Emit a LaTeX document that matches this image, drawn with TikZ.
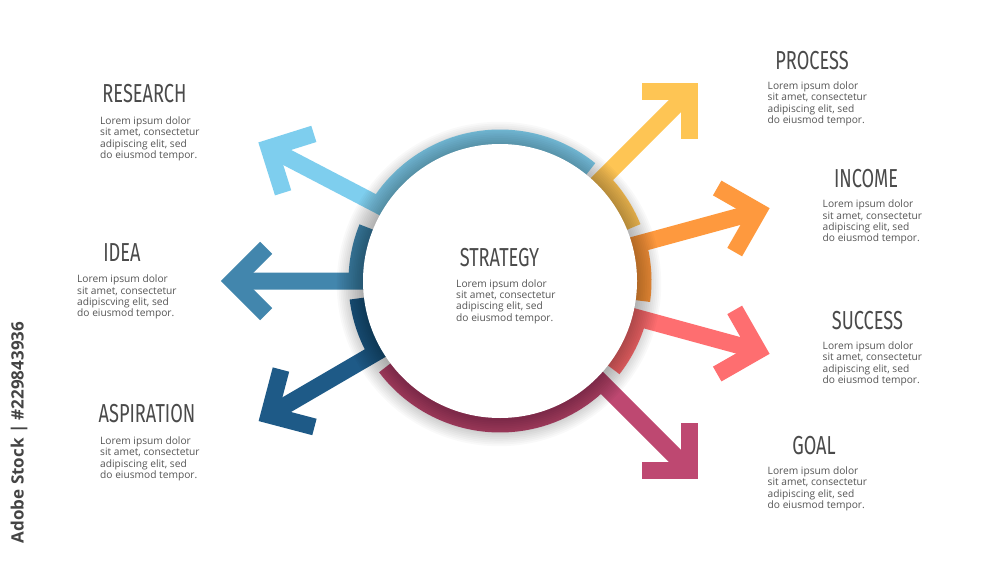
\documentclass[tikz,border=0pt]{standalone}
\usepackage{fontspec}
\newfontfamily\bodyfont{Open Sans}
\newfontfamily\titlefont[FakeStretch=0.70]{Fira Sans}
\newfontfamily\markfont{Open Sans}
\usetikzlibrary{calc}
\definecolor{cResearch}{HTML}{7ECEEE}
\definecolor{cIdea}{HTML}{4286AD}
\definecolor{cAspiration}{HTML}{1E5A87}
\definecolor{cGoal}{HTML}{BE4871}
\definecolor{cSuccess}{HTML}{FE6E70}
\definecolor{cIncome}{HTML}{FE993E}
\definecolor{cProcess}{HTML}{FEC554}
\definecolor{titlegray}{HTML}{4A4A4A}
\definecolor{bodygray}{HTML}{555555}
\definecolor{markgray}{HTML}{444444}
\tikzset{
  band/.style={line width=17pt, line join=miter, line cap=butt},
  ttl/.style={font=\titlefont\fontsize{26}{26}\selectfont, text=titlegray, inner sep=0pt, anchor=center},
  bodytxt/.style={font=\bodyfont\fontsize{10.2}{11.3}\selectfont, text=bodygray, align=left, anchor=north west, inner sep=0pt},
}
% #1 colour, #2 start angle, #3 end angle, #4 tip name, #5 tip coordinate
\newcommand\ringarrow[5]{%
  \coordinate (#4End) at ($(C)+(#3:143)$);
  \coordinate (#4) at #5;
  \draw[band, #1] ($(C)+(#2:143)$) arc[start angle=#2, end angle=#3, radius=143] -- (#4);
  \draw[band, #1] ($(#4)!47pt!45:(#4End)$) -- (#4) -- ($(#4)!47pt!-45:(#4End)$);
}
\begin{document}
\begin{tikzpicture}[x=1pt,y=1pt]
\useasboundingbox (0,0) rectangle (1000,563);
\fill[white] (0,0) rectangle (1000,563);
\coordinate (C) at (500,282);

\ringarrow{cResearch}{51}{148}{researchTip}{(269,415)}
\ringarrow{cIdea}{158}{180}{ideaTip}{(233,282)}
\ringarrow{cAspiration}{187}{210}{aspirationTip}{(269,148)}
\ringarrow{cGoal}{217}{315}{goalTip}{(689,93)}
\ringarrow{cSuccess}{322}{345}{successTip}{(758,212.3)}
\ringarrow{cIncome}{352}{375}{incomeTip}{(758,351.7)}
\ringarrow{cProcess}{382}{405}{processTip}{(689,471)}

% soft shadow of the hub
\foreach \i in {0,...,14}
  \fill[black, opacity=0.022] ($(C)+(-1,-3)$) circle[radius={137+1.8*\i}];
\node[circle, fill=white, minimum size=274pt, inner sep=0pt] (hub) at (C) {};

% texts
\node[ttl] (tStrategy) at (499.5,305) {STRATEGY};
\node[bodytxt] (bStrategy) at (456,283.7) {Lorem ipsum dolor\\sit amet, consectetur\\adipiscing elit, sed\\do eiusmod tempor.};

\node[ttl] (tResearch) at (144.5,469) {RESEARCH};
\node[bodytxt] (bResearch) at (100,446.3) {Lorem ipsum dolor\\sit amet, consectetur\\adipiscing elit, sed\\do eiusmod tempor.};

\node[ttl] (tIdea) at (122,310) {IDEA};
\node[bodytxt] (bIdea) at (77,288) {Lorem ipsum dolor\\sit amet, consectetur\\adipiscving elit, sed\\do eiusmod tempor.};

\node[ttl] (tAspiration) at (147,149) {ASPIRATION};
\node[bodytxt] (bAspiration) at (100,126.3) {Lorem ipsum dolor\\sit amet, consectetur\\adipiscing elit, sed\\do eiusmod tempor.};

\node[ttl] (tProcess) at (812,502.3) {PROCESS};
\node[bodytxt] (bProcess) at (767.5,481.3) {Lorem ipsum dolor\\sit amet, consectetur\\adipiscing elit, sed\\do eiusmod tempor.};

\node[ttl] (tIncome) at (866,384) {INCOME};
\node[bodytxt] (bIncome) at (822.5,363) {Lorem ipsum dolor\\sit amet, consectetur\\adipiscing elit, sed\\do eiusmod tempor.};

\node[ttl] (tSuccess) at (867.5,242.3) {SUCCESS};
\node[bodytxt] (bSuccess) at (822.5,221.3) {Lorem ipsum dolor\\sit amet, consectetur\\adipiscing elit, sed\\do eiusmod tempor.};

\node[ttl] (tGoal) at (814,117.3) {GOAL};
\node[bodytxt] (bGoal) at (767.5,96.3) {Lorem ipsum dolor\\sit amet, consectetur\\adipiscing elit, sed\\do eiusmod tempor.};

\node[rotate=90, font=\markfont\bfseries\fontsize{17}{17}\selectfont, text=markgray, inner sep=0pt] (mark) at (19,130.5) {Adobe Stock | \#229843936};
\end{tikzpicture}
\end{document}
